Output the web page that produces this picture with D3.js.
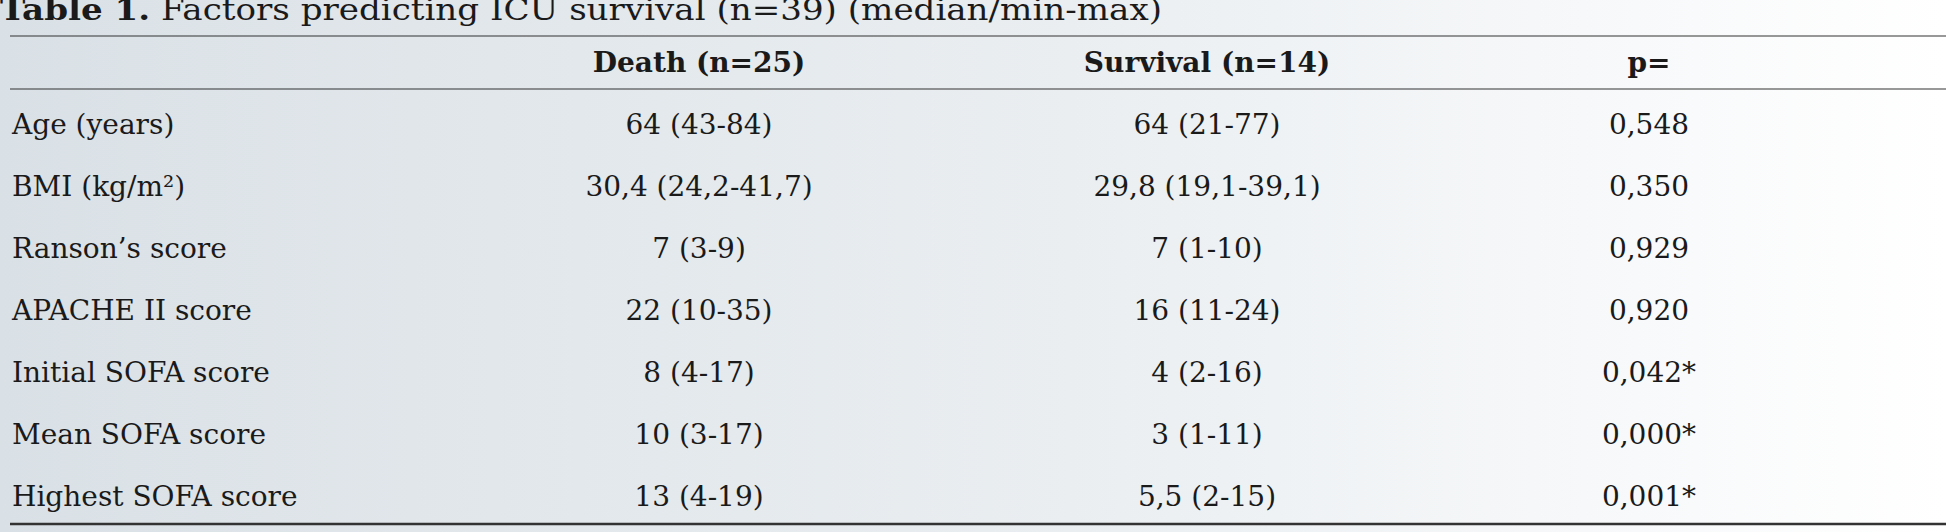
<!DOCTYPE html><html><head><meta charset="utf-8"><script src="https://cdn.jsdelivr.net/npm/d3@7"></script>
<style>body{margin:0;overflow:hidden}text{font-family:"DejaVu Serif","Liberation Serif",serif;fill:#1a1a1a}</style></head><body>
<svg id="c" width="1946" height="532"></svg>
<script>
const titleBold = "Table 1.";
const titleRest = " Factors predicting ICU survival (n=39) (median/min-max)";
const columns = ["Death (n=25)", "Survival (n=14)", "p="];
const factors = ["Age (years)", "BMI (kg/m²)", "Ranson’s score", "APACHE II score", "Initial SOFA score", "Mean SOFA score", "Highest SOFA score"];
const death = ["64 (43-84)", "30,4 (24,2-41,7)", "7 (3-9)", "22 (10-35)", "8 (4-17)", "10 (3-17)", "13 (4-19)"];
const survival = ["64 (21-77)", "29,8 (19,1-39,1)", "7 (1-10)", "16 (11-24)", "4 (2-16)", "3 (1-11)", "5,5 (2-15)"];
const pvals = ["0,548", "0,350", "0,929", "0,920", "0,042*", "0,000*", "0,001*"];

const svg = d3.select("#c");
const defs = svg.append("defs");
const g = defs.append("linearGradient").attr("id","bg");
g.append("stop").attr("offset","0%").attr("stop-color","#dae1e6");
g.append("stop").attr("offset","55%").attr("stop-color","#eaeef1");
g.append("stop").attr("offset","100%").attr("stop-color","#ffffff");
svg.append("rect").attr("width",1946).attr("height",532).attr("fill","url(#bg)");

const fs = 28;
const x = d3.scaleOrdinal().domain(["label",...columns]).range([12, 699, 1207, 1649]);
const y = d3.scaleBand().domain(factors).range([103, 537]).paddingInner(0);

const t = svg.append("text").attr("x",0).attr("y",20).style("font-size","30px");
t.append("tspan").attr("font-weight","bold").text(titleBold);
t.append("tspan").text(titleRest);
const tw = t.node().getComputedTextLength();
if (tw > 0) t.attr("textLength", 1162).attr("lengthAdjust","spacingAndGlyphs");

const line = (yy,w)=>svg.append("line").attr("x1",10).attr("x2",1946).attr("y1",yy).attr("y2",yy).attr("stroke","#333").attr("stroke-width",w);
line(36,1.2); line(89,1.2); line(524,2.5);

svg.selectAll(".h").data(columns).join("text").attr("x",d=>x(d)).attr("y",72)
  .attr("text-anchor","middle").attr("font-weight","bold").style("font-size",fs+"px").text(d=>d);

const rows = factors.map((f,i)=>({f, cells:[death[i],survival[i],pvals[i]]}));
const rg = svg.selectAll(".r").data(rows).join("g").attr("transform",d=>`translate(0,${y(d.f)+31})`);
rg.append("text").attr("x",x("label")).style("font-size",fs+"px").text(d=>d.f);
rg.selectAll(".v").data(d=>d.cells.map((c,j)=>({c,col:columns[j]}))).join("text")
  .attr("x",d=>x(d.col)).attr("text-anchor","middle").style("font-size",fs+"px").text(d=>d.c);
</script></body></html>
